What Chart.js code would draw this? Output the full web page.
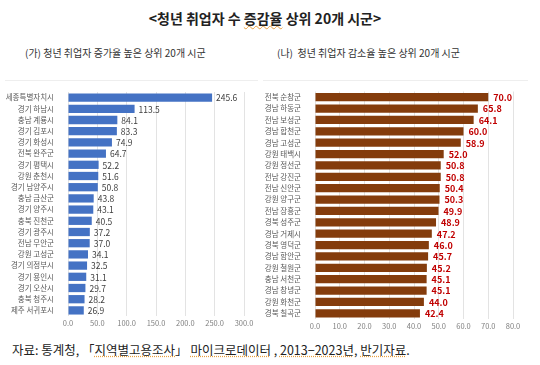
<!DOCTYPE html>
<html>
<head>
<meta charset="utf-8">
<script src="https://cdn.jsdelivr.net/npm/chart.js@4"></script>
<style>
  body { margin: 0; background: #fff; width: 540px; height: 365px; position: relative; overflow: hidden;
         font-family: "Noto Sans CJK KR", "Noto Sans", sans-serif; color: #222; }
  .title { position: absolute; top: 8px; left: 0; width: 530px; text-align: center; font-size: 14px; font-weight: bold; }
  .wavy { text-decoration: underline wavy #e8a040; text-decoration-thickness: 1px; }
  .sub { position: absolute; top: 45px; font-size: 10px; color: #333; }
  .panel { position: absolute; top: 80px; border-top: 1px solid #eee; }
  .src { position: absolute; top: 340px; left: 12px; font-size: 12.5px; color: #222; }
  .dot { text-decoration: underline dotted #e8a040; }
</style>
</head>
<body>
<div class="title">&lt;청년 취업자 수 <span class="wavy">증감율</span> 상위 20개 시군&gt;</div>
<div class="sub" style="left:25px">(가) 청년 취업자 증가율 높은 상위 20개 시군</div>
<div class="sub" style="left:277px">(나)&nbsp; 청년 취업자 감소율 높은 상위 20개 시군</div>
<div class="panel" style="left:5px;width:253px;height:255px"><canvas id="left" width="253" height="255"></canvas></div>
<div class="panel" style="left:263px;width:265px;height:256px"><canvas id="right" width="265" height="256"></canvas></div>
<div class="src">자료: 통계청, 「<span class="dot">지역별고용조사</span>」 <span class="dot">마이크로데이터</span> , <span class="dot">2013−2023년</span>, <span class="dot">반기자료</span>.</div>
<script>
const upRegions = ["세종특별자치시", "경기 하남시", "충남 계룡시", "경기 김포시", "경기 화성시", "전북 완주군",
  "경기 평택시", "강원 춘천시", "경기 남양주시", "충남 금산군", "경기 양주시", "충북 진천군", "경기 광주시",
  "전남 무안군", "강원 고성군", "경기 의정부시", "경기 용인시", "경기 오산시", "충북 청주시", "제주 서귀포시"];
const upValues = [245.6, 113.5, 84.1, 83.3, 74.9, 64.7, 52.2, 51.6, 50.8, 43.8, 43.1, 40.5, 37.2, 37.0, 34.1, 32.5, 31.1, 29.7, 28.2, 26.9];

const downRegions = ["전북 순창군", "경남 하동군", "전남 보성군", "경남 합천군", "경남 고성군", "강원 태백시",
  "강원 정선군", "전남 강진군", "전남 신안군", "강원 양구군", "전남 장흥군", "경북 성주군", "경남 거제시",
  "경북 영덕군", "경남 함안군", "강원 철원군", "충남 서천군", "경남 창녕군", "강원 화천군", "경북 칠곡군"];
const downValues = [70.0, 65.8, 64.1, 60.0, 58.9, 52.0, 50.8, 50.8, 50.4, 50.3, 49.9, 48.9, 47.2, 46.0, 45.7, 45.2, 45.1, 45.1, 44.0, 42.4];

const upMax = 300, upStep = 50;
const downMax = 80, downStep = 10;

const FONT = '"Noto Sans CJK KR", "Noto Sans", sans-serif';

// draws the value next to each bar
const barLabels = {
  id: 'barLabels',
  afterDatasetsDraw(chart, args, opts) {
    const ctx = chart.ctx;
    const meta = chart.getDatasetMeta(0);
    ctx.save();
    ctx.font = opts.font;
    ctx.fillStyle = opts.color;
    ctx.textBaseline = 'middle';
    ctx.textAlign = 'left';
    meta.data.forEach((bar, i) => {
      const v = chart.data.datasets[0].data[i];
      ctx.fillText(v.toFixed(1), bar.x + opts.gap, bar.y + 0.5);
    });
    ctx.restore();
  }
};

function makeChart(id, labels, values, cfg) {
  return new Chart(document.getElementById(id), {
    type: 'bar',
    data: {
      labels: labels,
      datasets: [{
        data: values,
        backgroundColor: cfg.color,
        borderWidth: 0,
        categoryPercentage: 1,
        barPercentage: cfg.barPct
      }]
    },
    options: {
      indexAxis: 'y',
      responsive: false,
      animation: false,
      layout: { padding: cfg.padding },
      plugins: {
        legend: { display: false },
        tooltip: { enabled: false },
        barLabels: cfg.labelOpts
      },
      scales: {
        x: {
          min: 0, max: cfg.max,
          ticks: { stepSize: cfg.step, color: '#7f7f7f', font: { family: FONT, size: 7.5 }, padding: 3,
                   callback: v => Number(v).toFixed(1) },
          grid: { color: '#e3e3e3', drawTicks: false },
          border: { display: false },
          afterFit(s) { s.height = cfg.xHeight; }
        },
        y: {
          ticks: { color: cfg.catColor, font: { family: FONT, size: 7.5 }, padding: 6, autoSkip: false },
          grid: { display: false },
          border: { display: false },
          afterFit(s) { s.width = cfg.yWidth; }
        }
      }
    },
    plugins: [barLabels]
  });
}

makeChart('left', upRegions, upValues, {
  color: '#4472c4', barPct: 0.74, max: upMax, step: upStep,
  padding: { top: 11, right: 14, left: 0, bottom: 0 },
  xHeight: 20, yWidth: 63, catColor: '#595959',
  labelOpts: { font: '8.5px ' + FONT, color: '#404040', gap: 4 }
});

makeChart('right', downRegions, downValues, {
  color: '#843c0c', barPct: 0.72, max: downMax, step: downStep,
  padding: { top: 6, right: 15, left: 0, bottom: 0 },
  xHeight: 18, yWidth: 52, catColor: '#595959',
  labelOpts: { font: 'bold 9px ' + FONT, color: '#c00000', gap: 5 }
});
</script>
</body>
</html>
